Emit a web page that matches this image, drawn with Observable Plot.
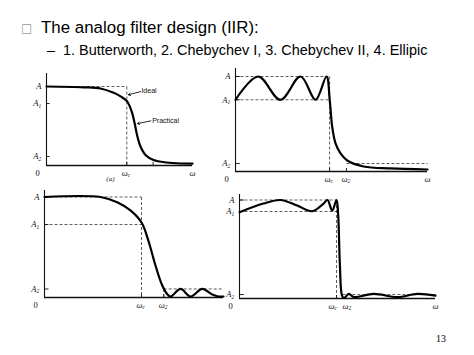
<!DOCTYPE html>
<html><head><meta charset="utf-8">
<script src="https://cdn.jsdelivr.net/npm/d3@7"></script>
<script src="https://cdn.jsdelivr.net/npm/@observablehq/plot@0.6"></script>
<style>
html,body{margin:0;padding:0;background:#fff;}
body{width:474px;height:355px;position:relative;overflow:hidden;font-family:"Liberation Sans",Arial,sans-serif;color:#000;}
.abs{position:absolute;line-height:1;white-space:nowrap;}
svg{position:absolute;overflow:visible;}
</style></head><body>
<div class="abs" style="left:21px;top:22px;font-size:12px;color:#999;font-family:'DejaVu Sans'">□</div>
<div class="abs" style="left:41px;top:20px;font-size:16.9px;">The analog filter design (IIR):</div>
<div class="abs" style="left:47px;top:42.5px;font-size:14.45px;">–&nbsp;&nbsp;1. Butterworth, 2. Chebychev I, 3. Chebychev II, 4. Ellipic</div>
<div class="abs" style="left:436px;top:334px;font-size:10px;font-family:'Liberation Serif',serif;">13</div>
<div id="charts"></div>
<script>
// ---------------- DATA (ω in % of axis length, gain relative to A = 1) ----------------
const levelMain = ["A", "A", "A"];
const levelSub  = ["", "1", "2"];

// 1. Butterworth
const bwOmega = [0, 25.3, 37, 46, 50.7, 55.1, 58.6, 60.3, 62.1, 64.4, 67.8, 73.3, 82.2, 91.8, 100];
const bwGain  = [1.0, 0.99, 0.975, 0.92, 0.875, 0.815, 0.67, 0.54, 0.38, 0.24, 0.133, 0.07, 0.038, 0.025, 0.023];
const bwLevels = [1, 0.785, 0.114];
const bwEdges  = [55, 73];

// 2. Chebychev I
const c1Omega = [0, 11.8, 23.4, 33.9, 41.7, 47.4, 49.1, 50.4, 52.1, 54.7, 58.2, 66.7, 80.7, 100];
const c1Gain  = [0.755, 1, 0.755, 1, 0.755, 1, 0.747, 0.466, 0.295, 0.19, 0.116, 0.053, 0.032, 0.021];
const c1Levels = [1, 0.755, 0.084];
const c1Edges  = [49, 57.8];

// 3. Chebychev II
const c2Omega = [0, 31.3, 40.6, 48, 54.2, 58.3, 62, 65.8, 68.5, 70.4, 76, 81.6, 88.1, 93.7, 97.2, 100];
const c2Gain  = [1, 1, 0.948, 0.866, 0.746, 0.55, 0.318, 0.119, 0.035, 0.01, 0.085, 0.01, 0.085, 0.03, 0.01, 0.01];
const c2Levels = [1, 0.726, 0.085];
const c2Edges  = [54.2, 66.6];

// 4. Elliptic
const elOmega = [0, 12.2, 20.9, 29.4, 37.1, 42.9, 44.9, 47.3, 49.5, 50.3, 51.2, 52.3, 53.3, 55.8, 58.3, 68.5, 80.5, 90.7, 100];
const elGain  = [0.876, 0.964, 1.0, 0.944, 0.886, 0.964, 1.0, 0.893, 1.0, 0.863, 0.355, 0.03, 0.005, 0.046, 0.015, 0.046, 0.015, 0.046, 0.03];
const elLevels = [1, 0.883, 0.04];
const elEdges  = [49.5, 52.5];

// x-axis label subscripts
const edgeSub = ["c", "2"];

// ---------------- LAYOUT ----------------
const serif = "'Liberation Serif','DejaVu Serif',serif";
const ink = "#111";
function drawPanel(o) {
  const [left, right, top, zero, aPx] = o.box;
  const mL = 24, mR = 12, mT = 6, mB = 22;
  const unit = zero - aPx;
  const yMax = (zero - top) / unit;
  const [A, A1, A2] = o.levels;
  const [wc, w2] = o.edges;
  const curve = o.omega.map((w, i) => ({w, g: o.gain[i]}));
  const lv = o.levels.map((v, i) => ({v, main: levelMain[i], sub: levelSub[i]}));
  const segs = [];
  segs.push({x1: 0, y1: A, x2: wc, y2: A});
  segs.push({x1: wc, y1: A, x2: wc, y2: 0});
  if (o.kind !== "bw") {
    segs.push({x1: 0, y1: A1, x2: wc, y2: A1});
    segs.push({x1: w2, y1: A2, x2: 100, y2: A2});
  }
  if (o.kind === "c2") segs.push({x1: w2, y1: A2, x2: w2, y2: 0});
  const tickLen = 3 / unit;
  const marks = [
    Plot.link(segs, {x1: "x1", y1: "y1", x2: "x2", y2: "y2", stroke: "#333", strokeWidth: 0.8, strokeDasharray: "3,2"}),
    Plot.ruleX([0], {y1: 0, y2: yMax, stroke: ink, strokeWidth: 1.1}),
    Plot.ruleY([0], {x1: 0, x2: 100, stroke: ink, strokeWidth: 1.6}),
    Plot.ruleY(o.levels, {x1: 0, x2: 2.5, stroke: ink, strokeWidth: 0.9}),
    Plot.ruleX(o.ticks, {y1: 0, y2: tickLen, stroke: ink, strokeWidth: 0.9}),
    Plot.line(curve, {x: "w", y: "g", curve: "catmull-rom", stroke: "#000", strokeWidth: 2.2}),
    // y labels
    Plot.text(lv.filter(d => d.sub), {x: 0, y: "v", text: "main", textAnchor: "end", dx: -8, fontFamily: serif, fontStyle: "italic", fontSize: 8.5, fill: ink}),
    Plot.text(lv.filter(d => d.sub), {x: 0, y: "v", text: "sub", textAnchor: "start", dx: -8, dy: 2.5, fontFamily: serif, fontStyle: "italic", fontSize: 5.5, fill: ink}),
    Plot.text(lv.filter(d => !d.sub), {x: 0, y: "v", text: "main", textAnchor: "end", dx: -5, fontFamily: serif, fontStyle: "italic", fontSize: 8.5, fill: ink}),
    Plot.text(["0"], {x: 0, y: 0, text: d => d, dx: -9, dy: 8, fontFamily: serif, fontSize: 8.5, fill: ink})
  ];
  for (const l of o.xlabels) {
    if (l.sub) {
      const s = l.shift || 0;
      marks.push(Plot.text([l], {x: "x", y: 0, text: "main", dy: 8, dx: s + 1, textAnchor: "end", fontFamily: serif, fontStyle: "italic", fontSize: 8.5, fill: ink}));
      marks.push(Plot.text([l], {x: "x", y: 0, text: "sub", dy: 10, dx: s + 1, textAnchor: "start", fontFamily: serif, fontStyle: "italic", fontSize: 5.5, fill: ink}));
    } else {
      marks.push(Plot.text([l], {x: "x", y: 0, text: "main", dy: 8, textAnchor: "middle", fontFamily: serif, fontStyle: "italic", fontSize: 8.5, fill: ink}));
    }
  }
  if (o.extra) marks.push(...o.extra);
  const svg = Plot.plot({
    width: right - left + mL + mR,
    height: zero - top + mT + mB,
    marginLeft: mL, marginRight: mR, marginTop: mT, marginBottom: mB,
    x: {domain: [0, 100], axis: null},
    y: {domain: [0, yMax], axis: null},
    style: {background: "transparent", overflow: "visible"},
    marks
  });
  svg.style.left = (left - mL) + "px";
  svg.style.top = (top - mT) + "px";
  document.getElementById("charts").appendChild(svg);
}

// annotation data for panel 1
const annText = [{x: 65, y: 0.94, t: "Ideal"}, {x: 72.4, y: 0.57, t: "Practical"}];
const annArrows = [{x1: 64.5, y1: 0.935, x2: 56, y2: 0.895}, {x1: 71.5, y1: 0.565, x2: 62.3, y2: 0.53}];
const caption = [{x: 43.8, y: -0.17, t: "(a)"}];

drawPanel({kind: "bw", box: [46, 192, 73, 165, 86], omega: bwOmega, gain: bwGain, levels: bwLevels, edges: bwEdges,
  ticks: bwEdges,
  xlabels: [{x: bwEdges[0], main: "ω", sub: edgeSub[0]}, {x: 100, main: "ω", sub: ""}],
  extra: [
    Plot.text(annText, {x: "x", y: "y", text: "t", textAnchor: "start", fontSize: 7, fontFamily: "'Liberation Sans',Arial,sans-serif", fill: ink}),
    Plot.arrow(annArrows, {x1: "x1", y1: "y1", x2: "x2", y2: "y2", stroke: ink, strokeWidth: 0.9, headLength: 4}),
    Plot.text(caption, {x: "x", y: "y", text: "t", fontSize: 7, fontFamily: serif, fontStyle: "italic", fill: "#222"})
  ]});
drawPanel({kind: "c1", box: [235, 427, 68, 171, 76], omega: c1Omega, gain: c1Gain, levels: c1Levels, edges: c1Edges,
  ticks: c1Edges,
  xlabels: [{x: c1Edges[0], main: "ω", sub: edgeSub[0]}, {x: c1Edges[1], main: "ω", sub: edgeSub[1]}, {x: 100, main: "ω", sub: ""}]});
drawPanel({kind: "c2", box: [44, 223, 190, 297, 196.5], omega: c2Omega, gain: c2Gain, levels: c2Levels, edges: c2Edges,
  ticks: c2Edges,
  xlabels: [{x: c2Edges[0], main: "ω", sub: edgeSub[0]}, {x: c2Edges[1], main: "ω", sub: edgeSub[1]}]});
drawPanel({kind: "el", box: [239, 435, 194, 298, 199.5], omega: elOmega, gain: elGain, levels: elLevels, edges: elEdges,
  ticks: elEdges,
  xlabels: [{x: elEdges[0], main: "ω", sub: edgeSub[0], shift: -3}, {x: elEdges[1], main: "ω", sub: edgeSub[1], shift: 5}, {x: 100, main: "ω", sub: ""}]});
</script>
</body></html>
